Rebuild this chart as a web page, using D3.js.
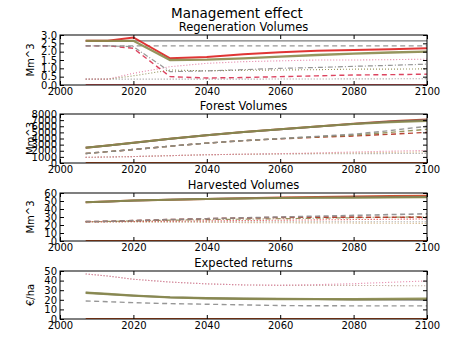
<!DOCTYPE html>
<html><head><meta charset="utf-8">
<script src="https://d3js.org/d3.v7.min.js"></script>
<style>body{margin:0;background:#fff}svg{display:block}text{font-family:"DejaVu Sans",sans-serif}</style>
</head><body><svg id="c" width="474" height="355"></svg>
<script>
const years = [2007, 2013, 2020, 2030, 2040, 2050, 2060, 2070, 2080, 2090, 2100];
const xTicks = [2000, 2020, 2040, 2060, 2080, 2100];

// Regeneration Volumes (Mm^3)
const regenGreySolid   = [2.65,2.65,2.65,2.65,2.65,2.65,2.65,2.65,2.65,2.65,2.65];
const regenOliveSolid  = [2.65,2.65,2.65,1.5,1.52,1.6,1.7,1.8,1.88,1.95,2.0];
const regenRedSolid    = [2.65,2.65,2.85,1.6,1.68,1.85,1.97,2.05,2.1,2.15,2.2];
const regenGreyDashed  = [2.35,2.35,2.35,2.35,2.35,2.35,2.35,2.35,2.35,2.35,2.35];
const regenOliveDashed = [2.35,2.35,2.3,0.8,0.85,0.92,1.0,1.05,1.12,1.18,1.25];
const regenRedDashed   = [2.35,2.35,2.2,0.5,0.42,0.45,0.5,0.55,0.6,0.62,0.65];
const regenRedDotted   = [0.35,0.35,0.7,1.1,1.3,1.4,1.45,1.5,1.5,1.52,1.55];
const regenOliveDotted = [0.35,0.35,0.55,0.9,0.85,0.88,0.9,0.92,0.95,0.95,0.97];
const regenGreyDotted  = [0.35,0.35,0.35,0.35,0.35,0.35,0.36,0.36,0.37,0.37,0.38];
const regenZero        = [0,0,0,0,0,0,0,0,0,0,0];
const regenTicks = [0,0.5,1,1.5,2,2.5,3];

// Forest Volumes (Mm^3)
const forestGreySolid   = [2500,2850,3300,3950,4550,5050,5500,5950,6400,6750,7000];
const forestOliveSolid  = [2500,2850,3300,3950,4550,5050,5500,5950,6350,6650,6850];
const forestRedSolid    = [2500,2850,3300,3950,4550,5050,5500,5950,6420,6800,7100];
const forestGreyDashed  = [1550,1850,2200,2750,3250,3650,4000,4350,4700,5300,6000];
const forestOliveDashed = [1550,1850,2200,2750,3250,3650,3980,4280,4550,5000,5500];
const forestRedDashed   = [1550,1850,2200,2750,3250,3650,3950,4200,4400,4700,5000];
const forestGreyDotted  = [925,980,1050,1200,1350,1420,1470,1500,1520,1540,1550];
const forestOliveDotted = [925,980,1050,1200,1350,1430,1500,1580,1650,1730,1800];
const forestRedDotted   = [925,980,1050,1200,1350,1440,1530,1650,1800,1930,2050];
const forestZero        = [0,0,0,0,0,0,0,0,0,0,0];
const forestTicks = [0,1000,2000,3000,4000,5000,6000,7000,8000];

// Harvested Volumes (Mm^3)
const harvGreySolid   = [48.5,49.3,50.5,51.7,52.6,53.2,53.8,54.2,54.5,54.8,55.0];
const harvOliveSolid  = [48.5,49.3,50.5,51.7,52.6,53.2,53.7,54.0,54.2,54.4,54.6];
const harvRedSolid    = [48.5,49.3,50.5,51.7,52.6,53.4,54.3,55.0,55.7,56.2,56.7];
const harvGreyDashed  = [24.2,24.6,25.5,26.8,27.9,29.0,30.0,31.0,32.0,33.0,34.0];
const harvOliveDashed = [24.2,24.5,25.2,26.0,26.7,27.3,27.9,28.5,29.1,29.7,30.3];
const harvRedDashed   = [24.2,24.6,25.5,26.8,27.9,28.8,29.5,29.8,29.8,29.7,29.6];
const harvGreyDotted  = [24.0,24.0,24.0,24.0,24.0,24.0,24.0,24.0,24.0,24.0,24.0];
const harvOliveDotted = [24.0,23.9,23.7,23.5,23.3,23.0,22.8,22.6,22.4,22.2,22.0];
const harvRedDotted   = [24.0,24.1,24.4,24.8,25.2,25.6,26.0,26.4,26.8,27.2,27.5];
const harvZero        = [0,0,0,0,0,0,0,0,0,0,0];
const harvTicks = [0,10,20,30,40,50,60];

// Expected returns (€/ha)
const retGreySolid   = [27.4,26.0,24.3,22.5,21.6,21.1,20.9,20.6,20.3,20.1,20.0];
const retOliveSolid  = [27.4,26.0,24.3,22.5,21.6,21.1,20.9,20.7,20.5,20.8,21.2];
const retGreyDashed  = [18.8,18.0,17.0,16.0,15.4,14.7,14.0,13.8,13.7,13.7,13.7];
const retGreyDotted  = [46.9,44.8,41.4,38.5,36.6,35.5,35.0,35.0,35.0,34.8,34.6];
const retRedDotted   = [46.9,44.8,41.4,38.5,36.6,35.5,35.2,35.8,36.8,38.2,39.7];
const retZero        = [0,0,0,0,0,0,0,0,0,0,0];
const retTicks = [0,10,20,30,40,50];

const C = {grey:"#6e6e6e", greyL:"#8c8c8c", olive:"#8a8a4c", red:"#dd1f1f", crimson:"#d8304f", pink:"#e0709a", zero:"#cc4a10"};
const SOLID=null, DASH="5,3.5", DOT="1,2", DASHDOT="5,2,1,2";

const panels = [
  {title:"Regeneration Volumes", ylabel:"Mm^3", top:35, bottom:85, max:3, ticks:regenTicks, fmt:d3.format(".1f"),
   series:[
     {v:regenZero,c:C.red,w:1.5,d:SOLID},
     {v:regenGreyDotted,c:C.greyL,w:1.1,d:DOT},
     {v:regenOliveDotted,c:C.olive,w:1.1,d:DOT},
     {v:regenRedDotted,c:C.pink,w:1.1,d:DOT},
     {v:regenRedDashed,c:C.crimson,w:1.4,d:DASH},
     {v:regenOliveDashed,c:C.greyL,w:1.2,d:DASHDOT},
     {v:regenGreyDashed,c:C.greyL,w:1.2,d:DASH},
     {v:regenGreySolid,c:C.grey,w:1.3,d:SOLID},
     {v:regenRedSolid,c:C.red,w:2,d:SOLID},
     {v:regenOliveSolid,c:C.olive,w:2.3,d:SOLID}]},
  {title:"Forest Volumes", ylabel:"Mm^3", top:114, bottom:163, max:8000, ticks:forestTicks, fmt:d3.format("d"),
   series:[
     {v:forestZero,c:C.zero,w:1.8,d:SOLID},
     {v:forestGreyDotted,c:C.greyL,w:1.1,d:DOT},
     {v:forestOliveDotted,c:"#c8a060",w:1.1,d:DOT},
     {v:forestRedDotted,c:C.pink,w:1.1,d:DOT},
     {v:forestRedDashed,c:"#b03020",w:1.4,d:DASH},
     {v:forestOliveDashed,c:C.olive,w:1.4,d:DASH},
     {v:forestGreyDashed,c:C.greyL,w:1.4,d:DASH},
     {v:forestRedSolid,c:"#b8401e",w:2,d:SOLID},
     {v:forestGreySolid,c:C.grey,w:1.8,d:SOLID},
     {v:forestOliveSolid,c:C.olive,w:2,d:SOLID}]},
  {title:"Harvested Volumes", ylabel:"Mm^3", top:193, bottom:241, max:60, ticks:harvTicks, fmt:d3.format("d"),
   series:[
     {v:harvZero,c:C.zero,w:1.8,d:SOLID},
     {v:harvGreyDotted,c:C.greyL,w:1.1,d:DOT},
     {v:harvOliveDotted,c:"#c8a060",w:1.1,d:DOT},
     {v:harvRedDotted,c:C.red,w:1.1,d:DOT},
     {v:harvOliveDashed,c:C.olive,w:1.2,d:DASHDOT},
     {v:harvRedDashed,c:"#b03020",w:1.6,d:DASH},
     {v:harvGreyDashed,c:C.greyL,w:1.6,d:DASH},
     {v:harvRedSolid,c:"#c8401c",w:2,d:SOLID},
     {v:harvGreySolid,c:C.grey,w:1.8,d:SOLID},
     {v:harvOliveSolid,c:C.olive,w:2,d:SOLID}]},
  {title:"Expected returns", ylabel:"€/ha", top:271, bottom:319, max:50, ticks:retTicks, fmt:d3.format("d"),
   series:[
     {v:retZero,c:C.zero,w:1.8,d:SOLID},
     {v:retGreyDotted,c:"#b09080",w:1.1,d:DOT},
     {v:retRedDotted,c:C.pink,w:1.1,d:DOT},
     {v:retGreyDashed,c:C.greyL,w:1.4,d:DASH},
     {v:retGreySolid,c:C.grey,w:1.8,d:SOLID},
     {v:retOliveSolid,c:C.olive,w:2.4,d:SOLID}]}
];

const svg = d3.select("#c");
const x = d3.scaleLinear().domain([2000,2100]).range([60,427]);

svg.append("text").attr("x",237).attr("y",18).attr("text-anchor","middle")
  .attr("font-size",13.5).text("Management effect");

panels.forEach(p=>{
  const y = d3.scaleLinear().domain([0,p.max]).range([p.bottom,p.top]);
  const g = svg.append("g");
  const clipId = "clip"+p.top;
  svg.append("clipPath").attr("id",clipId).append("rect")
    .attr("x",60).attr("y",p.top-2).attr("width",367).attr("height",p.bottom-p.top+2);
  const line = d3.line().x((d,i)=>x(years[i])).y(d=>y(d));
  const lg = g.append("g").attr("clip-path",`url(#${clipId})`);
  p.series.forEach(s=>{
    lg.append("path").datum(s.v).attr("d",line).attr("fill","none")
      .attr("stroke",s.c).attr("stroke-width",s.w)
      .attr("stroke-dasharray",s.d).attr("stroke-opacity",0.9);
  });
  const xb = d3.axisBottom(x).tickValues(xTicks).tickFormat(d3.format("d")).tickSizeInner(-4).tickSizeOuter(0).tickPadding(3);
  const xt = d3.axisTop(x).tickValues(xTicks).tickFormat("").tickSizeInner(-4).tickSizeOuter(0);
  const yl = d3.axisLeft(y).tickValues(p.ticks).tickFormat(p.fmt).tickSizeInner(-4).tickSizeOuter(0).tickPadding(3);
  const yr = d3.axisRight(y).tickValues(p.ticks).tickFormat("").tickSizeInner(-4).tickSizeOuter(0);
  const style = a=>{a.select(".domain").remove(); a.selectAll("line").attr("stroke","#000");
    a.selectAll("text").attr("font-size",10).attr("font-family","DejaVu Sans").attr("fill","#000");};
  g.append("g").attr("transform",`translate(0,${p.bottom})`).call(xb).call(style);
  g.append("g").attr("transform",`translate(0,${p.top})`).call(xt).call(style);
  g.append("g").attr("transform",`translate(60,0)`).call(yl).call(style);
  g.append("g").attr("transform",`translate(427,0)`).call(yr).call(style);
  g.append("rect").attr("x",60).attr("y",p.top).attr("width",367).attr("height",p.bottom-p.top)
    .attr("fill","none").attr("stroke","#000").attr("stroke-width",1);
  g.append("text").attr("x",243.5).attr("y",p.top-4).attr("text-anchor","middle")
    .attr("font-size",11.5).text(p.title);
  g.append("text").attr("transform",`translate(34,${(p.top+p.bottom)/2}) rotate(-90)`)
    .attr("text-anchor","middle").attr("font-size",10).text(p.ylabel);
});
</script></body></html>
